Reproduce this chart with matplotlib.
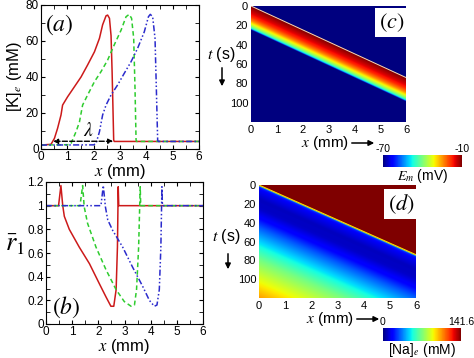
import matplotlib
matplotlib.use('Agg')
import matplotlib.pyplot as plt
import numpy as np
from matplotlib.ticker import MultipleLocator, FormatStrFormatter

plt.rcParams['font.family'] = 'Liberation Sans'
plt.rcParams['mathtext.fontset'] = 'stix'
plt.rcParams['axes.unicode_minus'] = False

# ---- panel (a): [K]e profiles at three times
ka_red_x = [0, 0.38, 0.51, 0.63, 0.76, 0.82, 1.01, 1.27, 1.52, 1.77, 2.03, 2.22, 2.34, 2.47, 2.53, 2.6, 2.66, 2.7, 2.73, 2.76, 2.78, 6]
ka_red_y = [2.2, 2.6, 5.9, 11.5, 18.9, 24.4, 29, 34.6, 40, 46.7, 54, 61.5, 69, 74, 74.4, 72.6, 63, 43, 24.4, 5, 4.2, 4.2]
ka_grn_x = [0, 1.1, 1.14, 1.33, 1.46, 1.58, 1.77, 2.03, 2.28, 2.53, 2.78, 3.04, 3.23, 3.35, 3.44, 3.52, 3.57, 3.61, 3.63, 6]
ka_grn_y = [2.2, 2.4, 3.1, 9.6, 15, 24.4, 30, 37.4, 43, 49.4, 57.8, 66, 73.5, 74.8, 72.6, 61.5, 33.7, 5, 4.2, 4.2]
ka_blu_x = [0, 2.0, 2.09, 2.22, 2.34, 2.47, 2.66, 2.91, 3.16, 3.42, 3.67, 3.92, 4.08, 4.15, 4.24, 4.33, 4.38, 4.43, 4.45, 6]
ka_blu_y = [2.2, 2.3, 3.1, 9.6, 18.9, 24.4, 30, 35.6, 42, 48.5, 56, 65, 73.5, 74.8, 73.5, 61.5, 33.7, 5, 4.2, 4.2]
lam_x = [0.46, 2.74]
lam_y = 4.3

# ---- panel (b): r1 bar profiles
rb_red_x = [0, 0.48, 0.57, 0.64, 0.70, 0.89, 1.27, 1.66, 2.04, 2.29, 2.48, 2.59, 2.68, 2.73, 2.76, 2.78, 6]
rb_red_y = [1, 1, 1.17, 1.0, 0.91, 0.8, 0.65, 0.51, 0.34, 0.23, 0.15, 0.15, 0.29, 0.65, 1.16, 1, 1]
rb_grn_x = [0, 1.3, 1.4, 1.46, 1.59, 1.91, 2.29, 2.68, 2.99, 3.25, 3.38, 3.46, 3.54, 3.6, 3.62, 6]
rb_grn_y = [1, 1, 1.17, 0.99, 0.85, 0.65, 0.46, 0.29, 0.19, 0.15, 0.16, 0.29, 0.65, 1.16, 1, 1]
rb_blu_x = [0, 2.1, 2.19, 2.27, 2.36, 2.55, 2.93, 3.31, 3.69, 3.95, 4.14, 4.24, 4.33, 4.39, 4.43, 4.45, 6]
rb_blu_y = [1, 1, 1.17, 0.99, 0.88, 0.79, 0.65, 0.48, 0.32, 0.2, 0.15, 0.16, 0.29, 0.65, 1.16, 1, 1]

# ---- panels (c),(d): wave front position and profiles behind it
front_x = [0, 6]
front_t = [0, 74]
em_dt = [0, 6, 11, 15, 18, 21, 23, 24, 24.5]
em_val = [-10, -14, -18, -24, -31, -39, -47, -55, -70]
em_rest = -70
na_dt = [0, 0.6, 1.5, 5, 15, 25, 35, 45, 60, 80, 100, 120]
na_val = [141.6, 80, 25, 15, 8, 9, 17, 30, 47, 70, 88, 105]
na_rest = 141.6

red, grn, blu = '#cc1a1a', '#2ecc2e', '#2b2bcc'

fig = plt.figure(figsize=(4.74, 3.58), dpi=100)

def style_line_ax(ax):
    ax.tick_params(direction='in', top=True, right=True, which='both', labelsize=8.5, pad=1.5)
    ax.tick_params(which='major', length=3)
    ax.tick_params(which='minor', length=3)
    ax.set_xlim(0, 6)
    ax.xaxis.set_major_locator(MultipleLocator(1))
    ax.xaxis.set_minor_locator(MultipleLocator(0.5))
    ax.set_xlabel(r'$x$ (mm)', fontsize=12, labelpad=-1)

# (a)
axa = fig.add_axes([41/474, 1-149/358, 158/474, 144/358])
axa.plot(ka_red_x, ka_red_y, color=red, lw=1.1)
axa.plot(ka_grn_x, ka_grn_y, color=grn, lw=1.1, dashes=(3, 2))
axa.plot(ka_blu_x, ka_blu_y, color=blu, lw=1.1, dashes=(4, 1.5, 1, 1.5, 1, 1.5))
axa.annotate('', xy=(lam_x[0], lam_y), xytext=(lam_x[1], lam_y),
             arrowprops=dict(arrowstyle='<|-|>', ls='--', lw=1, color='k',
                             mutation_scale=7, shrinkA=0, shrinkB=0))
axa.text(1.8, 10, r'$\lambda$', fontsize=14, ha='center', va='center')
axa.text(0.115, 0.86, r'$(a)$', transform=axa.transAxes, fontsize=17, ha='center', va='center')
axa.set_ylim(0, 80)
axa.yaxis.set_major_locator(MultipleLocator(20))
axa.yaxis.set_minor_locator(MultipleLocator(10))
style_line_ax(axa)
axa.set_ylabel(r'[K]$_e$ (mM)', fontsize=12, labelpad=1)

# (b)
axb = fig.add_axes([46/474, 1-324/358, 157/474, 142/358])
axb.plot(rb_red_x, rb_red_y, color=red, lw=1.1)
axb.plot(rb_grn_x, rb_grn_y, color=grn, lw=1.1, dashes=(3, 2))
axb.plot(rb_blu_x, rb_blu_y, color=blu, lw=1.1, dashes=(4, 1.5, 1, 1.5, 1, 1.5))
axb.text(0.13, 0.12, r'$(b)$', transform=axb.transAxes, fontsize=17, ha='center', va='center')
axb.set_ylim(0, 1.2)
axb.yaxis.set_major_locator(MultipleLocator(0.2))
axb.yaxis.set_minor_locator(MultipleLocator(0.1))
axb.yaxis.set_major_formatter(FormatStrFormatter('%g'))
style_line_ax(axb)
axb.set_ylabel(r'$\bar{r}_1$', fontsize=19, rotation=0, labelpad=0)
axb.yaxis.set_label_coords(-0.2, 0.47)

# heat maps
xg = np.linspace(0, 6, 300)
tg = np.linspace(0, 120, 360)
X, T = np.meshgrid(xg, tg)
DT = T - np.interp(X, front_x, front_t)
em_field = np.where(DT < 0, em_rest, np.interp(DT, em_dt, em_val))
na_field = np.where(DT < 0, na_rest, np.interp(DT, na_dt, na_val))

def heat(rect, field, vmin, vmax, label, edge_col, cb_rect, cb_label, tlabels, t_y, arrow_y, xl_pos):
    ax = fig.add_axes(rect)
    im = ax.imshow(field, extent=[0, 6, 120, 0], aspect='auto', cmap='jet',
                   vmin=vmin, vmax=vmax, interpolation='bilinear')
    ax.plot(front_x, front_t, color=edge_col, lw=0.7)
    ax.set_xlim(0, 6)
    ax.set_ylim(120, 0)
    ax.set_xticks(range(7))
    ax.set_yticks([0, 20, 40, 60, 80, 100])
    ax.tick_params(length=0, labelsize=8, pad=2)
    for s in ax.spines.values():
        s.set_visible(False)
    ax.text(0.905, label[1], label[0], transform=ax.transAxes, fontsize=16,
            ha='center', va='center',
            bbox=dict(fc='white', ec='none', boxstyle='square,pad=0.15'))
    # t (s) with arrow
    fig.text(t_y[0], t_y[1], r'$t$ (s)', fontsize=11.5, ha='center', va='center')
    fig.add_artist(matplotlib.patches.FancyArrowPatch(
        (arrow_y[0], arrow_y[1]), (arrow_y[0], arrow_y[2]), transform=fig.transFigure,
        arrowstyle='-|>', mutation_scale=8, lw=1.1, color='k'))
    # x (mm) with arrow
    fig.text(xl_pos[0], xl_pos[1], r'$x$ (mm)', fontsize=11, ha='center', va='center')
    fig.add_artist(matplotlib.patches.FancyArrowPatch(
        (xl_pos[2], xl_pos[1]), (xl_pos[3], xl_pos[1]), transform=fig.transFigure,
        arrowstyle='-|>', mutation_scale=8, lw=1.1, color='k'))
    cax = fig.add_axes(cb_rect)
    cb = fig.colorbar(im, cax=cax, orientation='horizontal', ticks=[vmin, vmax])
    cb.outline.set_visible(False)
    cax.xaxis.set_ticks_position('top')
    cax.set_xticklabels(tlabels)
    cax.tick_params(length=0, labelsize=7.5, pad=1)
    cax.set_xlabel(cb_label, fontsize=10, labelpad=0)
    return ax

heat([251/474, 1-122/358, 155/474, 116/358], em_field, -70, -10, (r'$(c)$', 0.86), '#ffd8b0',
     [383/474, 1-167/358, 79/474, 12/358], r'$E_m$ (mV)', ['-70', '-10'],
     (221/474, 1-55/358), (222/474, 1-65/358, 1-89/358),
     (325/474, 1-143/358, 349/474, 377/474))
heat([259/474, 1-298/358, 157/474, 113/358], na_field, 0, 141.6, (r'$(d)$', 0.83), '#ffe000',
     [383/474, 1-341/358, 78/474, 13/358], r'[Na]$_e$ (mM)', ['0', '141.6'],
     (226/474, 1-237/358), (228/474, 1-251/358, 1-272/358),
     (330/474, 1-319/358, 354/474, 382/474))

fig.savefig('out.png', dpi=100)
